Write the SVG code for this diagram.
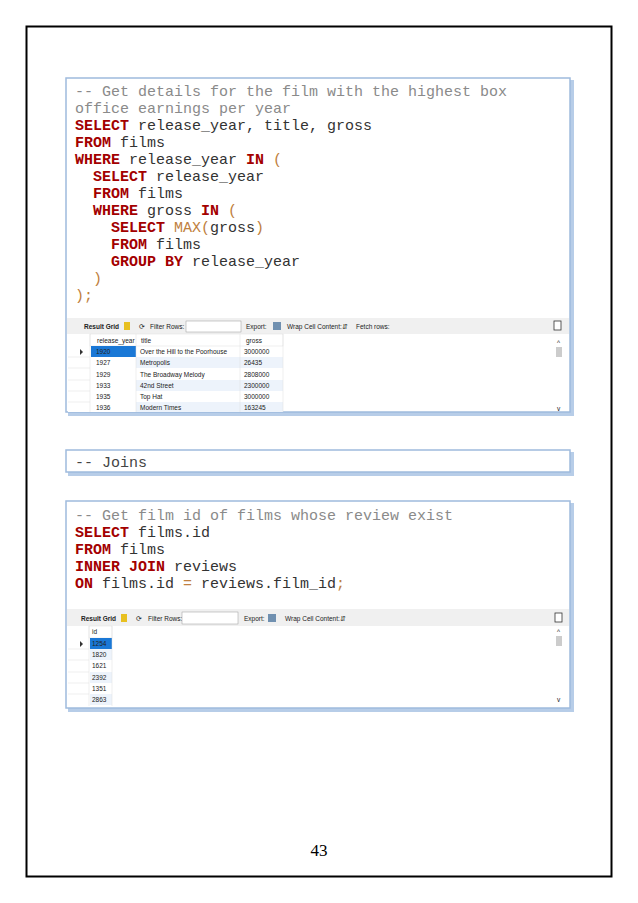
<svg xmlns="http://www.w3.org/2000/svg" width="638" height="903" viewBox="0 0 638 903">
<style>
.code{font-family:"Liberation Mono",monospace;font-size:15px;fill:#333}
.c{fill:#8a8a8a}
.k{fill:#a30000;font-weight:bold}
.p{fill:#c08040}
.panel{fill:#fff;stroke:#9fbbdd;stroke-width:1.5}
.sh{fill:#b7cde8}
.g{font-family:"Liberation Sans",sans-serif;font-size:6.5px;fill:#222}
.tb{fill:#f0f0f0}
.hdr{fill:#fff;stroke:#ddd;stroke-width:0.5}
.row{fill:#fff}
.alt{fill:#edf3fb}
.sel{fill:#1a78d6}
.line{stroke:#ddd;stroke-width:0.5}
</style>
<rect width="638" height="903" fill="#fff"/>
<rect x="26.5" y="26.5" width="585" height="850" fill="none" stroke="#000" stroke-width="2"/>

<g id="panel1">
<rect class="sh" x="68" y="80" width="506" height="336"/>
<rect class="panel" x="66" y="78" width="504" height="334"/>
<text class="code" x="75" y="96"><tspan class="c">-- Get details for the film with the highest box</tspan></text>
<text class="code" x="75" y="113"><tspan class="c">office earnings per year</tspan></text>
<text class="code" x="75" y="130"><tspan class="k">SELECT</tspan> release_year, title, gross</text>
<text class="code" x="75" y="147"><tspan class="k">FROM</tspan> films</text>
<text class="code" x="75" y="164"><tspan class="k">WHERE</tspan> release_year <tspan class="k">IN</tspan> <tspan class="p">(</tspan></text>
<text class="code" x="93" y="181"><tspan class="k">SELECT</tspan> release_year</text>
<text class="code" x="93" y="198"><tspan class="k">FROM</tspan> films</text>
<text class="code" x="93" y="215"><tspan class="k">WHERE</tspan> gross <tspan class="k">IN</tspan> <tspan class="p">(</tspan></text>
<text class="code" x="111" y="232"><tspan class="k">SELECT</tspan> <tspan class="p">MAX(</tspan>gross<tspan class="p">)</tspan></text>
<text class="code" x="111" y="249"><tspan class="k">FROM</tspan> films</text>
<text class="code" x="111" y="266"><tspan class="k">GROUP BY</tspan> release_year</text>
<text class="code" x="93" y="283"><tspan class="p">)</tspan></text>
<text class="code" x="75" y="300"><tspan class="p">);</tspan></text>
<rect class="tb" x="67" y="318" width="502" height="16"/>
<text class="g" x="84" y="329" font-weight="bold">Result Grid</text>
<rect x="124" y="322" width="6" height="8" fill="#e8c020"/>
<text class="g" x="139" y="329" fill="#3070c0">⟳</text>
<text class="g" x="150" y="329">Filter Rows:</text>
<rect x="186" y="321" width="55" height="11" fill="#fff" stroke="#999" stroke-width="0.5"/>
<text class="g" x="246" y="329">Export:</text>
<rect x="273" y="322" width="8" height="8" fill="#7090b0"/>
<text class="g" x="287" y="329">Wrap Cell Content:</text>
<text class="g" x="342" y="329">⇵</text>
<text class="g" x="356" y="329">Fetch rows:</text>
<rect x="554" y="321" width="7" height="9" fill="#fff" stroke="#333" stroke-width="0.8"/>
<rect x="68" y="334" width="215" height="78" fill="#fff"/>
<rect class="hdr" x="90" y="334" width="193" height="12"/>
<text class="g" x="97" y="343">release_year</text>
<text class="g" x="141" y="343">title</text>
<text class="g" x="246" y="343">gross</text>
<rect class="sel" x="91" y="346" width="45" height="11"/>
<rect class="alt" x="136" y="357" width="147" height="11"/>
<rect class="alt" x="136" y="380" width="147" height="11"/>
<rect class="alt" x="136" y="402" width="147" height="10"/>
<g class="line"><line x1="90" y1="334" x2="90" y2="412"/><line x1="136" y1="334" x2="136" y2="412"/><line x1="240" y1="334" x2="240" y2="412"/><line x1="283" y1="334" x2="283" y2="412"/><line x1="68" y1="357" x2="90" y2="357"/><line x1="68" y1="368" x2="90" y2="368"/><line x1="68" y1="380" x2="90" y2="380"/><line x1="68" y1="391" x2="90" y2="391"/><line x1="68" y1="402" x2="90" y2="402"/></g>
<path d="M80 349 l3 3 l-3 3z" fill="#333"/>
<text class="g" x="96" y="354" fill="#fff">1920</text><text class="g" x="140" y="354">Over the Hill to the Poorhouse</text><text class="g" x="244" y="354">3000000</text>
<text class="g" x="96" y="365">1927</text><text class="g" x="140" y="365">Metropolis</text><text class="g" x="244" y="365">26435</text>
<text class="g" x="96" y="377">1929</text><text class="g" x="140" y="377">The Broadway Melody</text><text class="g" x="244" y="377">2808000</text>
<text class="g" x="96" y="388">1933</text><text class="g" x="140" y="388">42nd Street</text><text class="g" x="244" y="388">2300000</text>
<text class="g" x="96" y="399">1935</text><text class="g" x="140" y="399">Top Hat</text><text class="g" x="244" y="399">3000000</text>
<text class="g" x="96" y="410">1936</text><text class="g" x="140" y="410">Modern Times</text><text class="g" x="244" y="410">163245</text>
<text class="g" x="557" y="345">^</text>
<rect x="556" y="347" width="6" height="10" fill="#ccc"/>
<text class="g" x="557" y="411">v</text>
</g>

<g id="panel2">
<rect class="sh" x="68" y="452" width="506" height="24"/>
<rect class="panel" x="66" y="450" width="504" height="22"/>
<text class="code" x="75" y="467"><tspan class="c" fill="#444" style="fill:#444">-- Joins</tspan></text>
</g>

<g id="panel3">
<rect class="sh" x="68" y="503" width="506" height="209"/>
<rect class="panel" x="66" y="501" width="504" height="207"/>
<text class="code" x="75" y="520"><tspan class="c">-- Get film id of films whose review exist</tspan></text>
<text class="code" x="75" y="537"><tspan class="k">SELECT</tspan> films.id</text>
<text class="code" x="75" y="554"><tspan class="k">FROM</tspan> films</text>
<text class="code" x="75" y="571"><tspan class="k">INNER JOIN</tspan> reviews</text>
<text class="code" x="75" y="588"><tspan class="k">ON</tspan> films.id <tspan class="p">=</tspan> reviews.film_id<tspan class="p">;</tspan></text>
<rect class="tb" x="67" y="609" width="502" height="17"/>
<text class="g" x="81" y="621" font-weight="bold">Result Grid</text>
<rect x="121" y="614" width="6" height="8" fill="#e8c020"/>
<text class="g" x="136" y="621" fill="#3070c0">⟳</text>
<text class="g" x="148" y="621">Filter Rows:</text>
<rect x="182" y="612" width="56" height="12" fill="#fff" stroke="#999" stroke-width="0.5"/>
<text class="g" x="244" y="621">Export:</text>
<rect x="268" y="614" width="8" height="8" fill="#7090b0"/>
<text class="g" x="285" y="621">Wrap Cell Content:</text>
<text class="g" x="340" y="621">⇵</text>
<rect x="555" y="613" width="7" height="9" fill="#fff" stroke="#333" stroke-width="0.8"/>
<rect class="hdr" x="89" y="626" width="23" height="12"/>
<text class="g" x="92" y="634">id</text>
<rect class="sel" x="90" y="638" width="22" height="11"/>
<rect class="alt" x="90" y="649" width="22" height="11"/>
<rect class="alt" x="90" y="672" width="22" height="11"/>
<rect class="alt" x="90" y="694" width="22" height="11"/>
<g class="line"><line x1="89" y1="626" x2="89" y2="706"/><line x1="112" y1="626" x2="112" y2="706"/><line x1="68" y1="649" x2="89" y2="649"/><line x1="68" y1="660" x2="89" y2="660"/><line x1="68" y1="672" x2="89" y2="672"/><line x1="68" y1="683" x2="89" y2="683"/><line x1="68" y1="694" x2="89" y2="694"/></g>
<path d="M80 641 l3 3 l-3 3z" fill="#333"/>
<text class="g" x="92" y="646" fill="#fff">1254</text>
<text class="g" x="92" y="657">1820</text>
<text class="g" x="92" y="668">1621</text>
<text class="g" x="92" y="680">2392</text>
<text class="g" x="92" y="691">1351</text>
<text class="g" x="92" y="702">2863</text>
<text class="g" x="557" y="634">^</text>
<rect x="556" y="636" width="6" height="10" fill="#ccc"/>
<text class="g" x="557" y="702">v</text>
</g>

<text x="319" y="856" text-anchor="middle" font-family="Liberation Serif,serif" font-size="17">43</text>
</svg>
